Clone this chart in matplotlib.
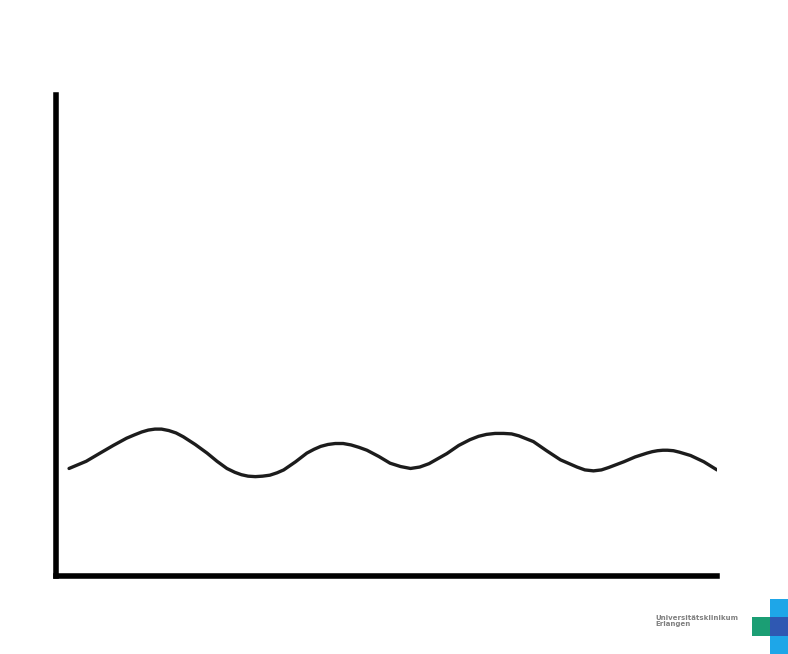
import matplotlib
matplotlib.use("Agg")
import matplotlib.pyplot as plt
from matplotlib.patches import Rectangle


# =========================
# Data (axis units 0..100)
# =========================
t = [1.9, 4.5, 6.6, 8.6, 10.6, 11.8, 12.9, 13.9, 14.9, 15.9, 17.0, 18.1, 19.2, 21.0, 22.8, 24.3, 25.8,
     27.0, 28.0, 29.0, 30.1, 31.2, 32.3, 33.4, 34.4, 36.2, 37.9, 39.0, 40.0, 41.1, 42.2, 43.4, 44.6, 45.8, 47.0, 48.8, 50.5,
     52.1, 53.6, 55.0, 56.4, 59.1, 60.9, 62.6, 63.9, 65.1, 66.4, 67.7, 68.9, 70.0, 72.2, 74.2, 76.3, 78.8,
     80.0, 81.3, 82.5, 83.6, 85.9, 87.6, 89.4, 90.2, 91.0, 91.8, 92.5, 93.4, 94.3, 96.0, 98.0, 100.0]
level = [22.3, 23.8, 25.5, 27.1, 28.6, 29.3, 29.9, 30.3, 30.5, 30.5, 30.2, 29.7, 28.9, 27.3, 25.5, 23.8, 22.3,
         21.5, 21.0, 20.7, 20.6, 20.7, 20.9, 21.4, 22.0, 23.7, 25.5, 26.3, 26.9, 27.3, 27.5, 27.5, 27.2, 26.7, 26.1, 24.8, 23.4,
         22.7, 22.3, 22.6, 23.3, 25.4, 27.1, 28.3, 29.0, 29.4, 29.6, 29.6, 29.5, 29.1, 27.9, 26.0, 24.1, 22.6,
         22.0, 21.8, 22.0, 22.5, 23.7, 24.7, 25.5, 25.8, 26.0, 26.1, 26.1, 26.0, 25.7, 25.0, 23.7, 22.0]

logo_text = "Universitätsklinikum\nErlangen"


fig = plt.figure(figsize=(7.88, 6.54), dpi=100)
fig.patch.set_facecolor("white")

# axes box placed so the two thick axis lines sit where they are in the reference
ax = fig.add_axes([0.0717, 0.120, 0.8382, 0.734])
ax.plot(t, level, color="#1c1c1c", lw=2.4, solid_capstyle="round", solid_joinstyle="round")
ax.set_xlim(0, 100)
ax.set_ylim(0, 100)
ax.set_xticks([])
ax.set_yticks([])
for side in ("top", "right"):
    ax.spines[side].set_visible(False)
for side in ("left", "bottom"):
    ax.spines[side].set_linewidth(4.0)
    ax.spines[side].set_color("black")
    ax.spines[side].set_capstyle("projecting")

# logo, bottom right corner
fig.text(655 / 788, 1 - 626 / 654, logo_text, fontsize=5, fontweight="bold",
         color="#808080", ha="left", va="baseline", linespacing=0.95)

W, H = 788, 654
fig.add_artist(Rectangle((770 / W, 0), 18 / W, (654 - 599) / H,
                         transform=fig.transFigure, color="#1ea6e8", lw=0))
fig.add_artist(Rectangle((752 / W, (654 - 636) / H), 18 / W, 19 / H,
                         transform=fig.transFigure, color="#1b9e74", lw=0))
fig.add_artist(Rectangle((770 / W, (654 - 636) / H), 18 / W, 19 / H,
                         transform=fig.transFigure, color="#2f58b2", lw=0))

fig.savefig("out.png", dpi=100, facecolor="white")
